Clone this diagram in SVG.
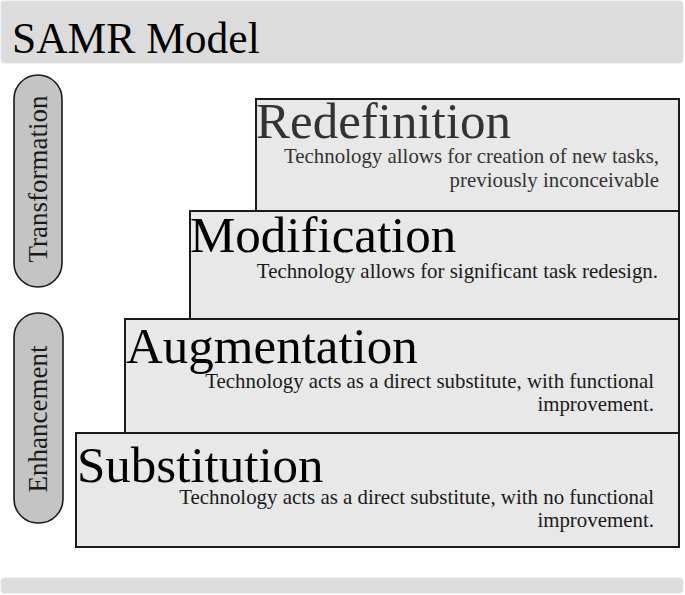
<svg xmlns="http://www.w3.org/2000/svg" width="685" height="595" viewBox="0 0 685 595">
<style>
.bar{fill:#dcdcdc;stroke:#e4e4e4;stroke-width:1}
.box{fill:#e8e8e8;stroke:#1a1a1a;stroke-width:2}
.pill{fill:#c4c4c4;stroke:#1a1a1a;stroke-width:1.6}
.serif{font-family:"Liberation Serif","Times New Roman",serif}
.title{font-size:51px;fill:#000}
.desc{font-size:20.9px;fill:#1a1a1a;text-anchor:end}
.side{font-size:27px;fill:#1a1a1a;text-anchor:middle}
</style>
<g id="header">
<rect class="bar" x="1" y="1" width="682" height="62" rx="3"/>
<text class="serif" x="12" y="53" font-size="43.5" fill="#000">SAMR Model</text>
</g>
<g id="footer">
<rect class="bar" x="1" y="578" width="682" height="15" rx="3"/>
</g>
<g id="transformation">
<rect class="pill" x="14" y="75" width="48" height="212" rx="24"/>
<text class="serif side" transform="translate(47,179) rotate(-90)">Transformation</text>
</g>
<g id="enhancement">
<rect class="pill" x="14" y="313" width="49" height="210" rx="24"/>
<text class="serif side" transform="translate(47,419) rotate(-90)">Enhancement</text>
</g>
<g id="redefinition">
<rect class="box" x="256" y="99" width="423" height="112"/>
<text class="serif title" x="256" y="138" style="fill:#333">Redefinition</text>
<text class="serif desc" x="659" y="163" style="fill:#333">Technology allows for creation of new tasks,</text>
<text class="serif desc" x="659" y="187" style="fill:#333">previously inconceivable</text>
</g>
<g id="modification">
<rect class="box" x="190" y="211" width="489" height="108"/>
<text class="serif title" x="190" y="252">Modification</text>
<text class="serif desc" x="658" y="278">Technology allows for significant task redesign.</text>
</g>
<g id="augmentation">
<rect class="box" x="125" y="319" width="554" height="114"/>
<text class="serif title" x="126" y="363">Augmentation</text>
<text class="serif desc" x="654" y="388">Technology acts as a direct substitute, with functional</text>
<text class="serif desc" x="654" y="411">improvement.</text>
</g>
<g id="substitution">
<rect class="box" x="76" y="433" width="603" height="114"/>
<text class="serif title" x="77" y="482">Substitution</text>
<text class="serif desc" x="654" y="504">Technology acts as a direct substitute, with no functional</text>
<text class="serif desc" x="654" y="527">improvement.</text>
</g>
<g id="connectors"/>
</svg>
